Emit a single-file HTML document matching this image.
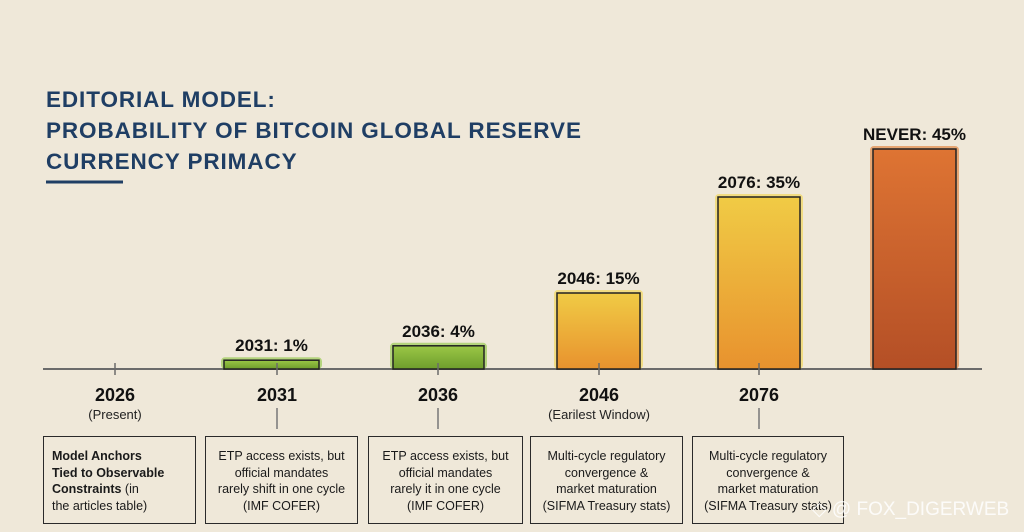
<!DOCTYPE html>
<html><head><meta charset="utf-8"><style>
body{margin:0;width:1024px;height:532px;overflow:hidden;background:#efe8d9;font-family:"Liberation Sans",sans-serif}
svg{position:absolute;left:0;top:0}
.title{position:absolute;left:46px;top:84px;color:#1f3e64;font-weight:bold;font-size:22.5px;line-height:31px;letter-spacing:0.9px}
.box{position:absolute;top:436px;height:88px;border:1.5px solid #2a2a2a;box-sizing:border-box;font-size:12.5px;line-height:16.5px;color:#1a1a1a;text-align:center;padding-top:11px;white-space:nowrap}
</style></head><body>
<div class="title">EDITORIAL MODEL:<br>PROBABILITY OF BITCOIN GLOBAL RESERVE<br>CURRENCY PRIMACY</div>
<svg width="1024" height="532" id="chart">
<defs>
<linearGradient id="gGreen" x1="0" y1="0" x2="0" y2="1"><stop offset="0" stop-color="#9bc746"/><stop offset="1" stop-color="#6e9d2c"/></linearGradient>
<linearGradient id="gYel" x1="0" y1="0" x2="0" y2="1"><stop offset="0" stop-color="#f0cb45"/><stop offset="1" stop-color="#e8922e"/></linearGradient>
<linearGradient id="gRed" x1="0" y1="0" x2="0" y2="1"><stop offset="0" stop-color="#de7433"/><stop offset="1" stop-color="#b44f26"/></linearGradient>
</defs>
<line x1="46" y1="182" x2="123" y2="182" stroke="#1f3e64" stroke-width="3"/>
</svg>
<div class="box" style="left:43px;width:153px;text-align:left;padding-left:8px"><b>Model Anchors</b><br><b>Tied to Observable</b><br><b>Constraints</b> (in<br>the articles table)</div>
<div class="box" style="left:205px;width:153px">ETP access exists, but<br>official mandates<br>rarely shift in one cycle<br>(IMF COFER)</div>
<div class="box" style="left:368px;width:155px">ETP access exists, but<br>official mandates<br>rarely it in one cycle<br>(IMF COFER)</div>
<div class="box" style="left:530px;width:153px">Multi-cycle regulatory<br>convergence &amp;<br>market maturation<br>(SIFMA Treasury stats)</div>
<div class="box" style="left:692px;width:152px">Multi-cycle regulatory<br>convergence &amp;<br>market maturation<br>(SIFMA Treasury stats)</div>
<div style="position:absolute;left:812px;top:498px;color:#fff;opacity:0.85;font-size:19px">◇ @ FOX_DIGERWEB</div>
<script>
const categories=["2031","2036","2046","2076","NEVER"];
const values=[1,4,15,35,45];
const ticks=["2026","2031","2036","2046","2076"];
const tickSubs=["(Present)","","","(Earilest Window)",""];
const svg=document.getElementById('chart');
const NS="http://www.w3.org/2000/svg";
const axisY=369;
const yScale=v=>4+v*4.8;
const barX=[224,393,557,718,873], barW=[95,91,83,82,83];
const tickX=[115,277,438,599,759];
const fills=["url(#gGreen)","url(#gGreen)","url(#gYel)","url(#gYel)","url(#gRed)"];
const glows=["#8cc63f","#8cc63f","#f2d34a","#f2d34a","#e07a2e"];
function mk(t,a){const e=document.createElementNS(NS,t);for(const k in a)e.setAttribute(k,a[k]);svg.appendChild(e);return e;}
const ax=mk('line',{x1:43,y1:axisY,x2:982,y2:axisY,stroke:'#6b6b6b','stroke-width':2});


values.forEach((v,i)=>{
  const h=yScale(v);
  const g=mk('rect',{x:barX[i]-3,y:axisY-h-3,width:barW[i]+6,height:h+3,rx:4,fill:glows[i],opacity:0.6});
  
  
  const r=mk('rect',{x:barX[i],y:axisY-h,width:barW[i],height:h,fill:fills[i],stroke:'#222','stroke-width':1.5});
  
  
  const t=mk('text',{x:barX[i]+barW[i]/2,y:axisY-h-9,'text-anchor':'middle','font-size':17,'font-weight':'bold',fill:'#111'});
  t.textContent=categories[i]+': '+v+'%';
  
  
});
ticks.forEach((tk,i)=>{
  const x=tickX[i];
  const l=mk('line',{x1:x,y1:axisY-6,x2:x,y2:axisY+6,stroke:'#6b6b6b','stroke-width':1.5});
  
  
  const t=mk('text',{x:x,y:401,'text-anchor':'middle','font-size':18,'font-weight':'bold',fill:'#111'});
  t.textContent=tk;
  
  
  if(tickSubs[i]){
    const s=mk('text',{x:x,y:419,'text-anchor':'middle','font-size':13,fill:'#222'});
    s.textContent=tickSubs[i];
    
    
  } else if(i>0){
    const c=mk('line',{x1:x,y1:408,x2:x,y2:429,stroke:'#777','stroke-width':1.5});
    
    
  }
});
</script>
</body></html>
